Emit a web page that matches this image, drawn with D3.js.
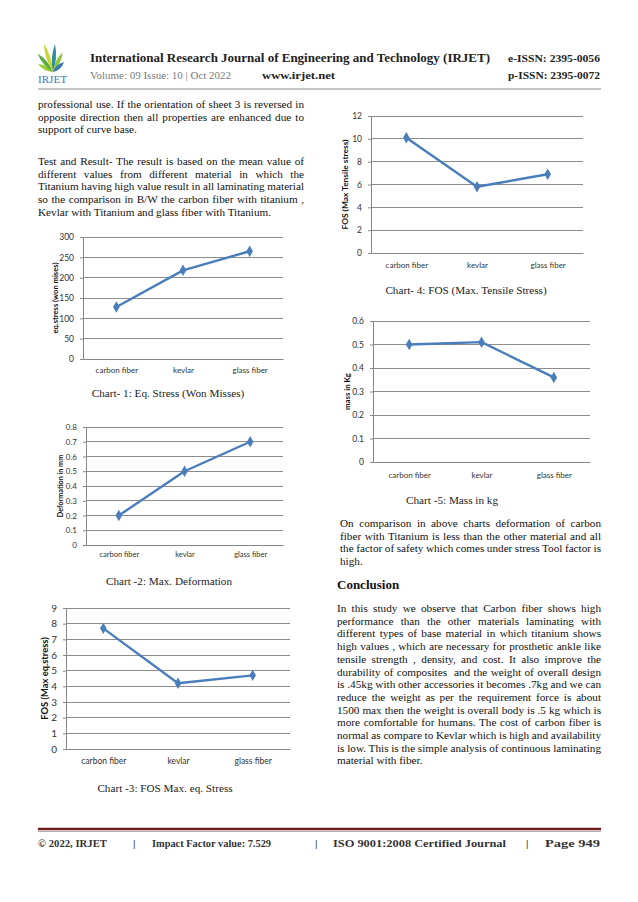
<!DOCTYPE html>
<html>
<head>
<meta charset="utf-8">
<script src="https://cdn.jsdelivr.net/npm/d3@7"></script>
<style>
  html, body { margin: 0; padding: 0; background: #fff; }
  svg { display: block; }
</style>
</head>
<body>
<svg id="page" width="638" height="902"></svg>
<script>
// ---------------- DATA ----------------
const categories = ["carbon fiber", "kevlar", "glass fiber"];
const eqStress = [128, 218, 265];
const deformation = [0.2, 0.5, 0.7];
const fosEqStress = [7.7, 4.2, 4.7];
const fosTensile = [10.1, 5.8, 6.9];
const massKg = [0.5, 0.51, 0.36];

const stressTicks = [0, 50, 100, 150, 200, 250, 300];
const deformTicks = [0, 0.1, 0.2, 0.3, 0.4, 0.5, 0.6, 0.7, 0.8];
const fosEqTicks = [0, 1, 2, 3, 4, 5, 6, 7, 8, 9];
const fosTensileTicks = [0, 2, 4, 6, 8, 10, 12];
const massTicks = [0, 0.1, 0.2, 0.3, 0.4, 0.5, 0.6];

const leftPara1 = [
  "professional use. If the orientation of sheet 3 is reversed in",
  "opposite direction then all properties are enhanced due to",
  "support of curve base."
];
const leftPara2 = [
  "Test and Result- The result is based on the mean value of",
  "different values from different material in which the",
  "Titanium having high value result in all laminating material",
  "so the comparison in B/W the carbon fiber with titanium ,",
  "Kevlar with Titanium and glass fiber with Titanium."
];
const rightPara1 = [
  "On comparison in above charts deformation of carbon",
  "fiber with Titanium is less than the other material and all",
  "the factor of safety which comes under stress Tool factor is",
  "high."
];
const rightPara2 = [
  "In this study we observe that Carbon fiber shows high",
  "performance than the other materials laminating with",
  "different types of base material in which titanium shows",
  "high values , which are necessary for prosthetic ankle like",
  "tensile strength , density, and cost. It also improve the",
  "durability of composites  and the weight of overall design",
  "is .45kg with other accessories it becomes .7kg and we can",
  "reduce the weight as per the requirement force is about",
  "1500 max then the weight is overall body is .5 kg which is",
  "more comfortable for humans. The cost of carbon fiber is",
  "normal as compare to Kevlar which is high and availability",
  "is low. This is the simple analysis of continuous laminating",
  "material with fiber."
];

// ---------------- PAGE ----------------
const svg = d3.select("#page");
svg.append("rect").attr("width", 638).attr("height", 902).attr("fill", "#fff");

const SERIF = "'Liberation Serif', 'DejaVu Serif', serif";
const SANS = "Lato, 'Open Sans', 'Liberation Sans', sans-serif";
const TEXTC = "#111";

// ---- header logo ----
const logo = svg.append("g").attr("transform", "translate(53,72)");
const leaves = [
  {a: -62, l: 17, c: "#9ccc3a"},
  {a: -40, l: 24, c: "#5aa641"},
  {a: -18, l: 30, c: "#c9d634"},
  {a: 4, l: 28, c: "#2f8f9d"},
  {a: 26, l: 22, c: "#8dc63f"},
  {a: 48, l: 15, c: "#3a78b5"}
];
leaves.forEach(lf => {
  logo.append("path")
    .attr("d", `M0,0 Q${-4},${-lf.l/2} 0,${-lf.l} Q${4},${-lf.l/2} 0,0Z`)
    .attr("fill", lf.c)
    .attr("transform", `rotate(${lf.a})`);
});
svg.append("text").attr("x", 38).attr("y", 83).attr("font-family", SERIF)
  .attr("font-size", 9.5).attr("fill", "#3a78b5").attr("textLength", 29)
  .attr("lengthAdjust", "spacingAndGlyphs").text("IRJET");

function txt(x, y, s, opts) {
  const t = svg.append("text").attr("x", x).attr("y", y)
    .attr("font-family", opts.family || SERIF)
    .attr("font-size", opts.size || 11)
    .attr("font-weight", opts.weight || "normal")
    .attr("fill", opts.fill || TEXTC)
    .attr("text-anchor", opts.anchor || "start")
    .text(s);
  if (opts.len) t.attr("textLength", opts.len).attr("lengthAdjust", "spacingAndGlyphs");
  return t;
}

txt(90, 62, "International Research Journal of Engineering and Technology (IRJET)",
  {size: 13.5, weight: "bold", fill: "#222", len: 400});
txt(600, 62, "e-ISSN: 2395-0056", {size: 11, weight: "bold", fill: "#222", anchor: "end", len: 92});
txt(90, 79, "Volume: 09 Issue: 10 | Oct 2022", {size: 11, fill: "#7a7a7a", len: 141});
txt(262, 79, "www.irjet.net", {size: 11, weight: "bold", fill: "#222", len: 73});
txt(600, 79, "p-ISSN: 2395-0072", {size: 11, weight: "bold", fill: "#222", anchor: "end", len: 92});
svg.append("line").attr("x1", 38).attr("x2", 601).attr("y1", 89).attr("y2", 89)
  .attr("stroke", "#b0b0b0").attr("stroke-width", 1.5);

// ---- paragraphs (justified) ----
function para(lines, x, y0, width, lh, size) {
  lines.forEach((s, i) => {
    const t = svg.append("text").attr("x", x).attr("y", y0 + i * lh)
      .attr("font-family", SERIF).attr("font-size", size).attr("fill", TEXTC)
      .attr("xml:space", "preserve").text(s);
    if (i < lines.length - 1) {
      const w = t.node().getComputedTextLength();
      const spaces = (s.match(/ /g) || []).length;
      if (spaces > 0) t.attr("word-spacing", (width - w) / spaces);
    }
  });
}
const LH = 12.7, FS = 11.2;
para(leftPara1, 38, 108, 266, LH, FS);
para(leftPara2, 38, 165, 266, LH, FS);
para(rightPara1, 340, 527, 261, LH, FS);
txt(337, 589, "Conclusion", {size: 13, weight: "bold", fill: "#111"});
para(rightPara2, 337, 612, 264, LH, FS);

// ---- footer ----
svg.append("line").attr("x1", 38).attr("x2", 601).attr("y1", 829).attr("y2", 829)
  .attr("stroke", "#6e1c1c").attr("stroke-width", 2.5);
svg.append("line").attr("x1", 38).attr("x2", 601).attr("y1", 831.5).attr("y2", 831.5)
  .attr("stroke", "#b9a9a9").attr("stroke-width", 1);
const FOOT = {size: 11, weight: "bold", fill: "#333"};
txt(38, 847, "© 2022, IRJET", Object.assign({len: 69}, FOOT));
txt(133, 847, "|", FOOT);
txt(152, 847, "Impact Factor value: 7.529", Object.assign({len: 119}, FOOT));
txt(315, 847, "|", FOOT);
txt(333, 847, "ISO 9001:2008 Certified Journal", Object.assign({len: 173}, FOOT));
txt(526, 847, "|", FOOT);
txt(545, 847, "Page 949", Object.assign({len: 55}, FOOT));

// ---------------- CHARTS ----------------
function lineChart(cfg) {
  const g = svg.append("g");
  const x = d3.scalePoint().domain(categories).range([cfg.left, cfg.right]).padding(0.5);
  const y = d3.scaleLinear().domain([0, cfg.ticks[cfg.ticks.length - 1]]).range([cfg.bottom, cfg.top]);

  // gridlines
  g.selectAll(".grid").data(cfg.ticks.slice(1)).join("line")
    .attr("x1", cfg.left).attr("x2", cfg.right)
    .attr("y1", d => y(d)).attr("y2", d => y(d))
    .attr("stroke", "#8c8c8c").attr("stroke-width", 1).attr("shape-rendering", "crispEdges");

  // axes
  const ya = g.append("g").attr("transform", `translate(${cfg.left},0)`)
    .call(d3.axisLeft(y).tickValues(cfg.ticks).tickSize(3).tickPadding(cfg.tickPad || 6)
      .tickFormat(d => String(+d.toFixed(2))));
  ya.select(".domain").attr("stroke", "#868686");
  ya.selectAll(".tick line").attr("stroke", "#868686");
  ya.selectAll("text").attr("font-family", SANS).attr("font-size", cfg.tickSize)
    .attr("fill", "#333");

  const xa = g.append("g").attr("transform", `translate(0,${cfg.bottom})`)
    .call(d3.axisBottom(x).tickSize(0).tickPadding(cfg.catPad));
  xa.select(".domain").attr("stroke", "#868686");
  xa.selectAll("text").attr("font-family", SANS).attr("font-size", cfg.catSize)
    .attr("fill", "#333");

  // y label
  g.append("text")
    .attr("transform", `translate(${cfg.ylx},${(cfg.top + cfg.bottom) / 2}) rotate(-90)`)
    .attr("text-anchor", "middle").attr("dy", "0.35em")
    .attr("font-family", SANS).attr("font-weight", "bold").attr("font-size", cfg.ylSize)
    .attr("fill", "#111").text(cfg.yLabel);

  // line
  const pts = categories.map((c, i) => [x(c), y(cfg.values[i])]);
  g.append("path").attr("d", d3.line()(pts)).attr("fill", "none")
    .attr("stroke", "#4a7ebb").attr("stroke-width", 2.4).attr("stroke-linejoin", "round");
  g.selectAll(".mk").data(pts).join("path")
    .attr("d", d3.symbol(d3.symbolDiamond, 38)())
    .attr("transform", d => `translate(${d[0]},${d[1]})`)
    .attr("fill", "#4a7ebb");

  // caption
  g.append("text").attr("x", cfg.capX).attr("y", cfg.capY).attr("text-anchor", "middle")
    .attr("font-family", SERIF).attr("font-size", 11.2).attr("fill", "#222").text(cfg.caption);
}

lineChart({values: eqStress, ticks: stressTicks, left: 83, right: 283, top: 237, bottom: 359,
  tickSize: 8.5, catSize: 8, catPad: 8, ylx: 55, ylSize: 7.6, yLabel: "eq.stress (won mises)",
  caption: "Chart- 1:  Eq. Stress (Won Misses)", capX: 168, capY: 397});

lineChart({values: deformation, ticks: deformTicks, left: 86, right: 283, top: 427, bottom: 545,
  tickSize: 8, catSize: 7.5, catPad: 7, ylx: 60, ylSize: 7.2, yLabel: "Deformation in mm",
  caption: "Chart -2:  Max. Deformation", capX: 169, capY: 585});

lineChart({values: fosEqStress, ticks: fosEqTicks, left: 66, right: 290, top: 608, bottom: 749,
  tickSize: 10, catSize: 8.5, catPad: 9, ylx: 45, ylSize: 9.4, yLabel: "FOS (Max eq.stress)",
  caption: "Chart -3: FOS Max. eq. Stress", capX: 165, capY: 792});

lineChart({values: fosTensile, ticks: fosTensileTicks, left: 371, right: 583, top: 116, bottom: 253,
  tickSize: 8.5, catSize: 8, catPad: 9, ylx: 345, ylSize: 8.4, yLabel: "FOS (Max Tensile stress)",
  caption: "Chart- 4: FOS (Max. Tensile Stress)", capX: 466, capY: 294});

lineChart({values: massKg, ticks: massTicks, left: 373, right: 590, top: 321, bottom: 462,
  tickSize: 8.5, catSize: 8, catPad: 10, ylx: 347, ylSize: 7.8, yLabel: "mass in Kg",
  caption: "Chart -5: Mass in kg", capX: 452, capY: 504});
</script>
</body>
</html>
